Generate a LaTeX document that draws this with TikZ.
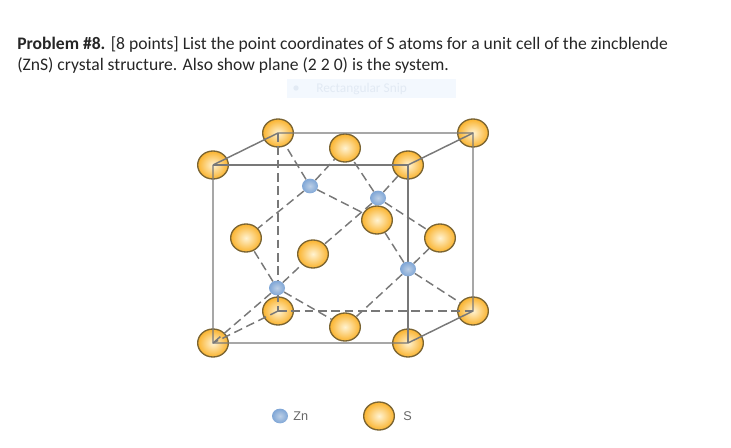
\documentclass[tikz,border=0pt]{standalone}
\usepackage{fontspec}
\setmainfont{Carlito}
\newfontfamily\labelfont{Liberation Sans}
\usetikzlibrary{shapes.geometric,backgrounds}

\definecolor{atomrim}{HTML}{7A6432}
\definecolor{atomfill}{HTML}{FAB32E}
\definecolor{atomglow}{HTML}{FFF3D2}
\definecolor{zincfill}{HTML}{7FA6D6}
\definecolor{zincglow}{HTML}{BCCFE6}
\definecolor{edgegray}{HTML}{787878}
\definecolor{snipfill}{HTML}{F3F8FE}
\definecolor{sniptext}{HTML}{E2EAF4}

\tikzset{
    atomS/.style={ellipse, draw=atomrim, line width=1pt, inner color=atomglow, outer color=atomfill,
        minimum width=23pt, minimum height=21pt, inner sep=0pt},
    atomZn/.style={ellipse, inner color=zincglow, outer color=zincfill,
        minimum width=12pt, minimum height=11pt, inner sep=0pt},
    celledge/.style={draw=edgegray, line width=1.1pt},
    bond/.style={draw=edgegray, line width=1.1pt, dash pattern=on 6.5pt off 3.5pt},
    problemtext/.style={anchor=base west, inner sep=0pt, font=\fontsize{13.2}{15}\selectfont, text=black!85},
    legendtext/.style={inner sep=0pt, font=\labelfont\fontsize{9.5}{11}\selectfont, text=black!60}
}

\begin{document}
\begin{tikzpicture}[x=0.75pt,y=-0.75pt]
    \useasboundingbox (0,0) rectangle (731,447);

    % =====================
    % Problem text
    % =====================
    \node[problemtext] (line1) at (17,49) {\textbf{Problem \#8.} [8 points] List the point coordinates of S atoms for a unit cell of the zincblende};
    \node[problemtext] (line2) at (17,70) {(ZnS) crystal structure. Also show plane (2 2 0) is the system.};

    % Faint snip tag
    \node[fill=snipfill, minimum width=127pt, minimum height=14pt, inner sep=0pt] (snip) at (371.5,88.5) {};
    \node[circle, fill=sniptext, minimum size=4pt, inner sep=0pt] (snipdot) at (296,88) {};
    \node[anchor=west, inner sep=0pt, font=\fontsize{10}{12}\selectfont, text=sniptext] (sniplabel) at (316,89) {Rectangular Snip};

    % =====================
    % S atoms
    % =====================
    \foreach \name/\x/\y in {b/278/133, c/473/133, e/345/148, a/213/165, d/408/165,
                             m/377/220, k/246/238, n/440/238, l/313/254,
                             i/278/311, h/473/311, j/345/327, f/213/343, g/408/343} {
        \node[atomS] (\name) at (\x,\y) {};
    }

    % =====================
    % Unit cell
    % =====================
    \draw[celledge] (a.center) -- (b.center) -- (c.center) -- (h.center) -- (g.center) -- (f.center) -- (a.center);
    \draw[celledge] (a.center) -- (d.center) -- (g.center);
    \draw[celledge] (d.center) -- (c.center);
    \draw[bond] (b.center) -- (i.center);
    \draw[bond] (i.center) -- (h.center);
    \draw[bond] (i.center) -- (f.center);

    % =====================
    % Zn atoms
    % =====================
    \foreach \name/\x/\y in {p/310/186, q/378/198, r/408/269, t/277/288} {
        \node[atomZn] (\name) at (\x,\y) {};
    }
    \draw[bond] (t) -- (f.center);

    % Bonds run behind the atoms
    \begin{pgfonlayer}{background}
        \foreach \from/\to in {p/b, p/e, p/k, p/m, q/e, q/d, q/l, q/n, r/m, r/n, r/h, r/j, t/k, t/l, t/j} {
            \draw[bond] (\from) -- (\to);
        }
    \end{pgfonlayer}

    % =====================
    % Legend
    % =====================
    \node[atomZn] (keyzn) at (280,416) {};
    \node[legendtext, anchor=west] (keyznlabel) at (293,416) {Zn};
    \node[atomS] (keys) at (379,416) {};
    \node[legendtext, anchor=west] (keyslabel) at (403,416) {S};
\end{tikzpicture}
\end{document}
